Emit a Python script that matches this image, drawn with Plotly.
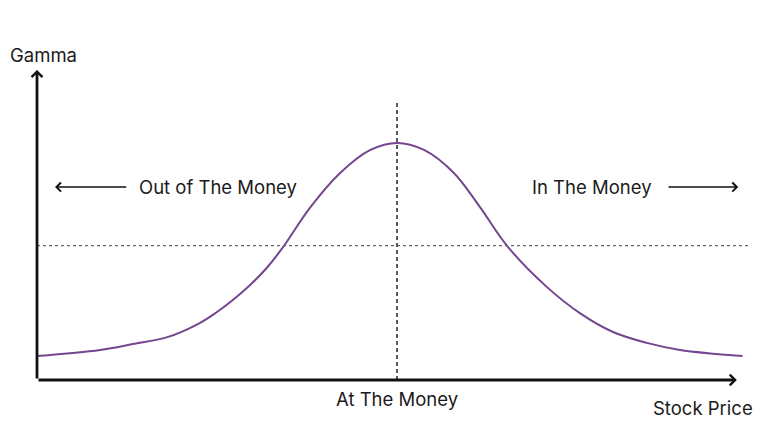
"""
Gamma versus stock price sketch: bell-shaped gamma curve peaking at the money.
"""
import plotly.graph_objects as go

# stock price (normalised, strike at 50) and gamma (normalised)
stock_price = [0, 8.75, 13.3, 18.1, 22.6, 25.0, 27.2, 29.6, 31.9, 34.2, 37.9, 42.1, 46.3, 50.0,
               53.75, 57.9, 61.5, 65.4, 70.8, 75.4, 80.0, 84.7, 89.3, 98.0]
gamma = [7.5, 9.4, 11.25, 13.4, 17.8, 21.25, 25.0, 29.7, 35.0, 41.6, 53.8, 64.7, 71.9, 74.1,
         71.9, 64.7, 54.1, 41.6, 29.1, 20.9, 15.0, 11.6, 9.4, 7.5]

strike = 50
half_gamma = 42
x_max = 97.2
y_max = 96.9

FONT = "Inter"
FONT_SIZE = 18.5
TEXT_COLOR = "#1a1a1a"

fig = go.Figure()

fig.add_trace(go.Scatter(
    x=stock_price,
    y=gamma,
    mode="lines",
    line=dict(color="#74468f", width=2, shape="spline", smoothing=1.0),
    hoverinfo="skip",
    showlegend=False
))

# reference lines
fig.add_shape(type="line", x0=strike, x1=strike, y0=0, y1=86.9,
              line=dict(color="#222222", width=1.5, dash="4px,3px"))
fig.add_shape(type="line", x0=0, x1=99, y0=half_gamma, y1=half_gamma,
              line=dict(color="#666666", width=1.3, dash="3px,3px"))

# axes drawn as arrows
arrow = dict(xref="x", yref="y", axref="x", ayref="y", showarrow=True,
             arrowhead=4, text="", arrowcolor="#111111")
fig.add_annotation(x=0, y=y_max, ax=0, ay=0, arrowwidth=2.8, arrowsize=0.75, **arrow)
fig.add_annotation(x=x_max, y=0, ax=0, ay=0, arrowwidth=2.8, arrowsize=0.75, **arrow)

# region arrows
fig.add_annotation(x=2.5, y=60.3, ax=12.6, ay=60.3, arrowwidth=1.6, arrowsize=1.1, **arrow)
fig.add_annotation(x=97.4, y=60.3, ax=87.5, ay=60.3, arrowwidth=1.6, arrowsize=1.1, **arrow)

# labels inside the plot area (data coordinates)
inside_labels = [
    ("Out of The Money", 13.9, 60.3, "left"),
    ("In The Money", 68.5, 60.3, "left"),
]
for text, x, y, align in inside_labels:
    fig.add_annotation(x=x, y=y, text=text, showarrow=False, xanchor=align,
                       yanchor="middle", font=dict(family=FONT, size=FONT_SIZE, color=TEXT_COLOR))

# labels outside the plot area (paper coordinates)
outside_labels = [
    ("Gamma", -0.04, 1.016, "left"),
    ("At The Money", 0.5, -0.059, "center"),
    ("Stock Price", 0.997, -0.0875, "right"),
]
for text, x, y, align in outside_labels:
    fig.add_annotation(x=x, y=y, xref="paper", yref="paper", text=text, showarrow=False,
                       xanchor=align, yanchor="middle",
                       font=dict(family=FONT, size=FONT_SIZE, color=TEXT_COLOR))

fig.update_layout(
    width=780,
    height=440,
    margin=dict(l=29, r=31, t=52, b=68),
    paper_bgcolor="white",
    plot_bgcolor="white",
    xaxis=dict(range=[0, 100], visible=False, fixedrange=True),
    yaxis=dict(range=[0, 100], visible=False, fixedrange=True),
)

fig.write_html("out.html")
